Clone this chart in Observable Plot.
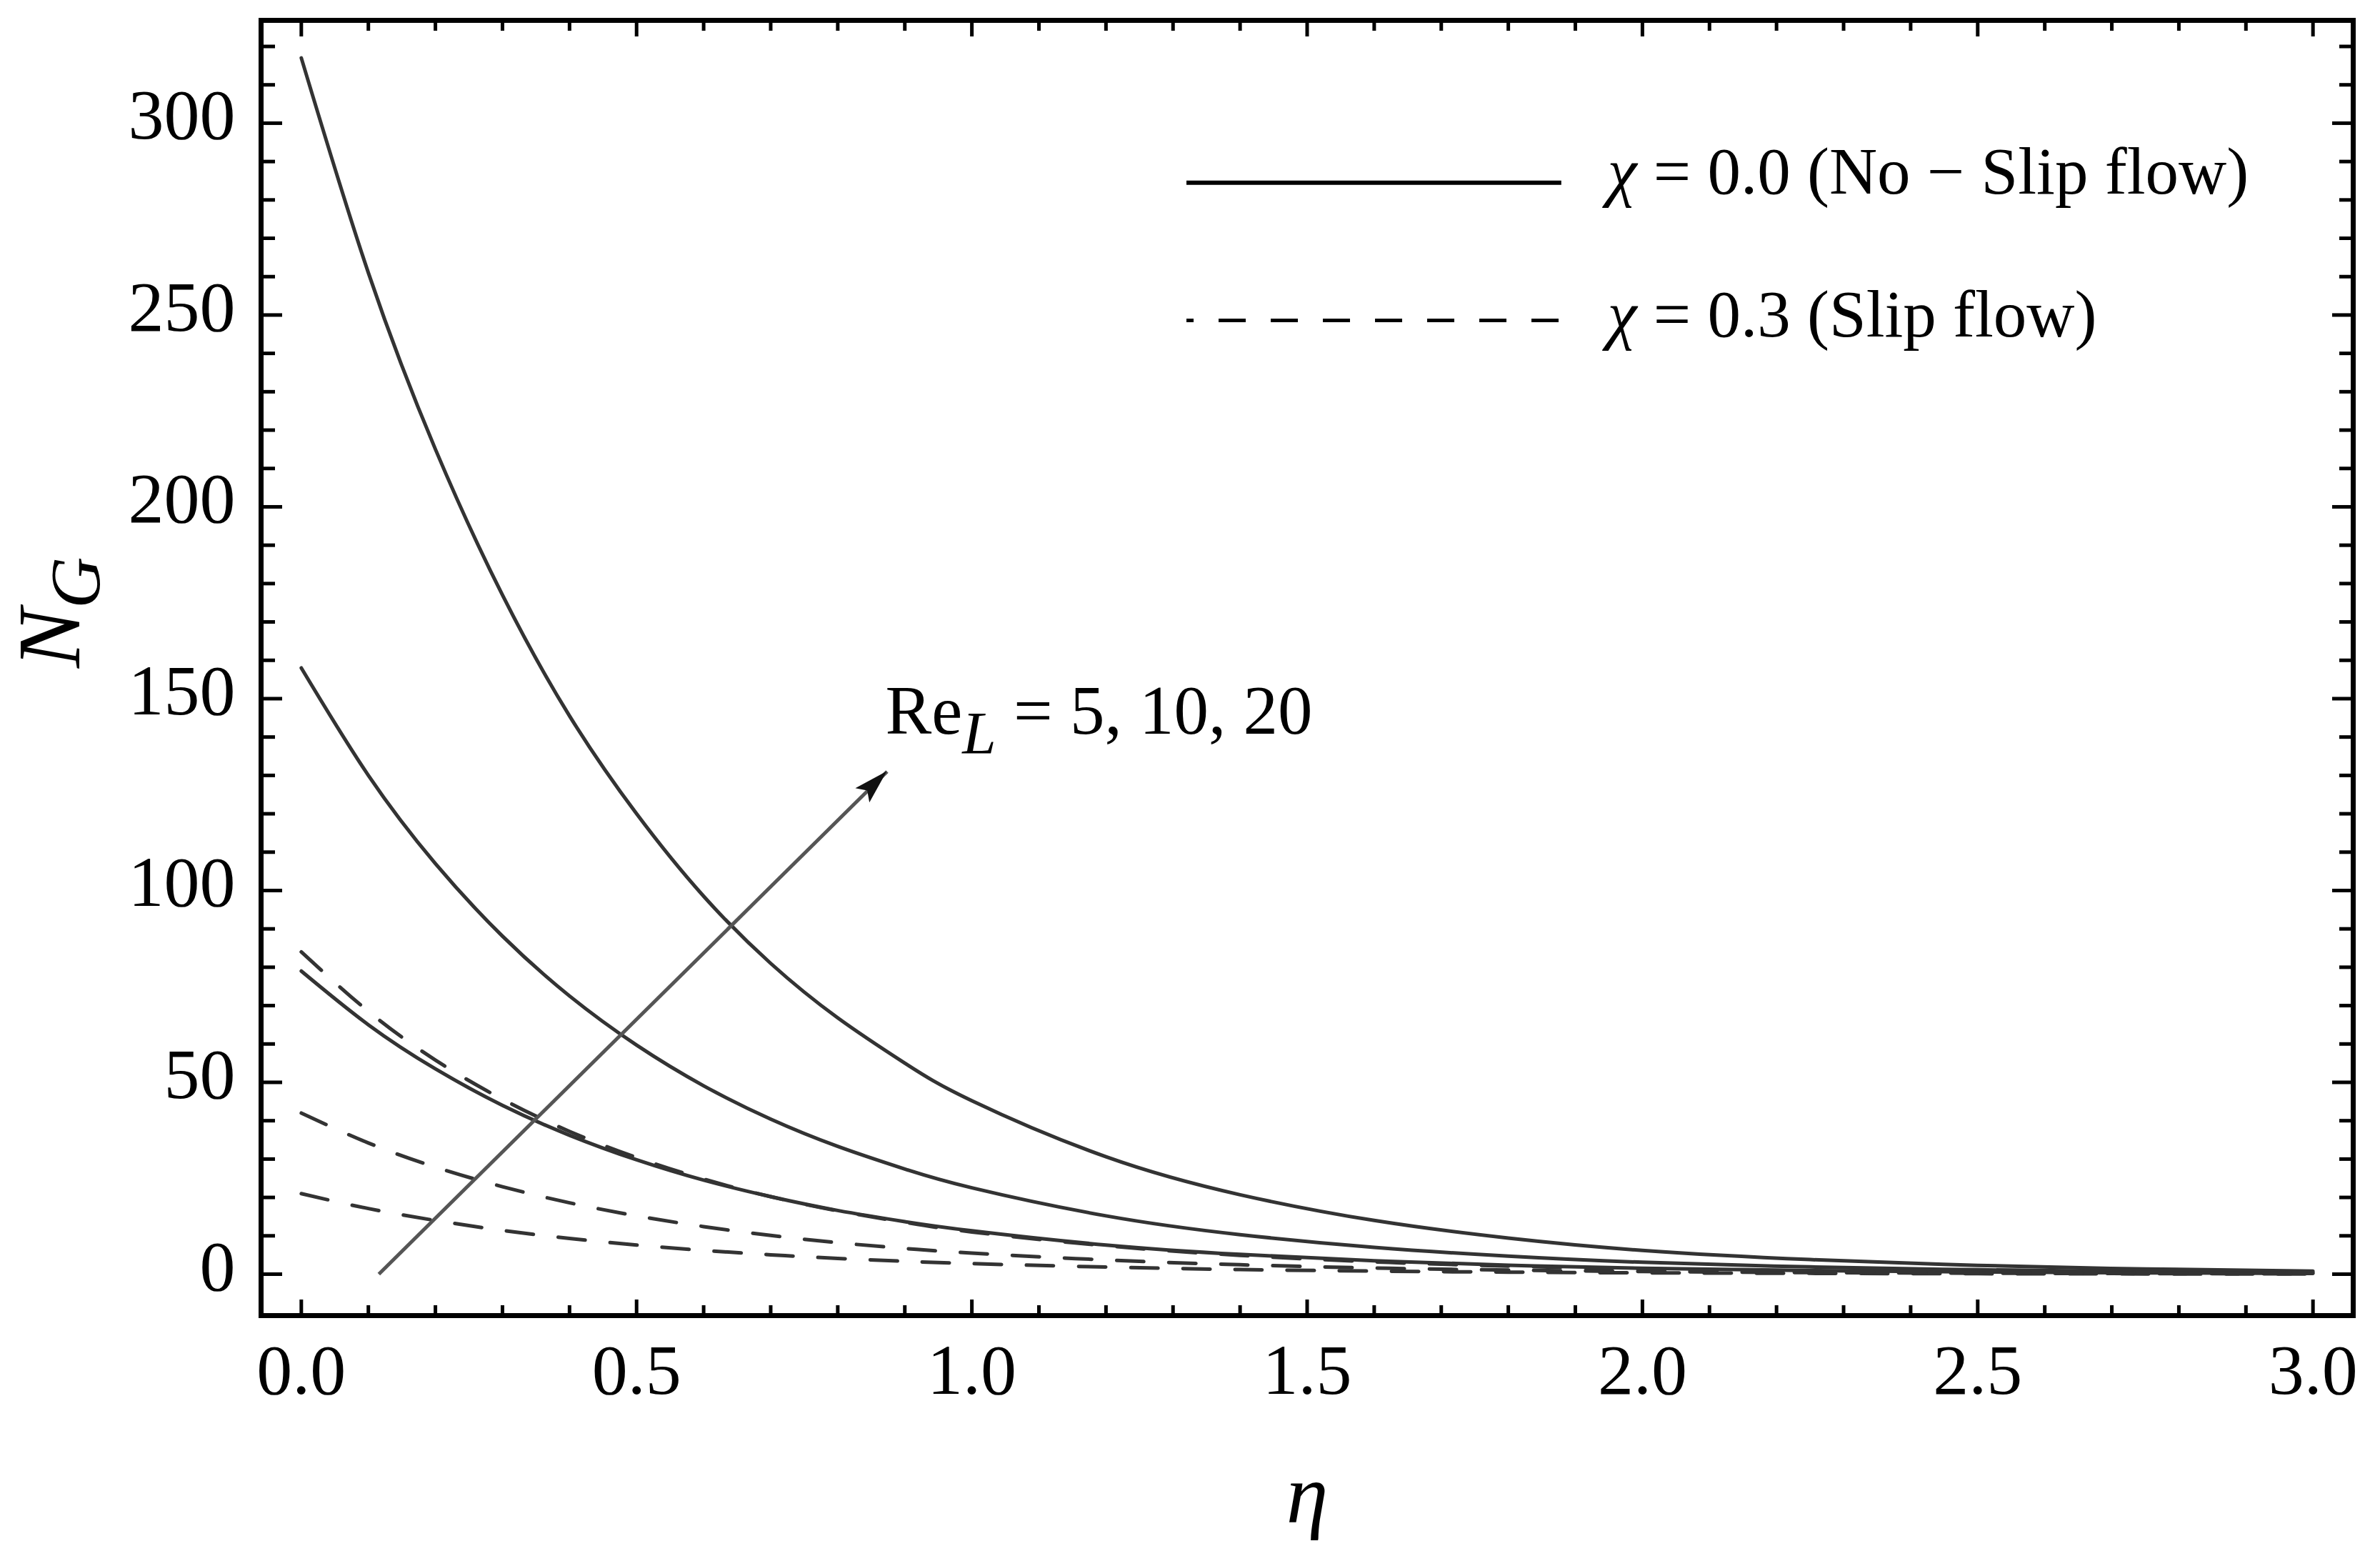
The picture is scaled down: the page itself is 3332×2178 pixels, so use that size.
<!DOCTYPE html>
<html>
<head>
<meta charset="utf-8">
<script src="https://cdn.jsdelivr.net/npm/d3@7"></script>
<script src="https://cdn.jsdelivr.net/npm/@observablehq/plot@0.6"></script>
<style>
  html, body { margin: 0; padding: 0; background: #fff; overflow: hidden; }
  #chart svg { display: block; }
</style>
</head>
<body>
<div id="chart"></div>
<script>
// ---------- data ----------
const eta = [0, 0.1, 0.2, 0.3, 0.4, 0.5, 0.6, 0.7, 0.8, 0.9, 1.0, 1.2, 1.4, 1.6, 1.8, 2.0, 2.25, 2.5, 2.75, 3.0];

// chi = 0.0 (no-slip flow), solid lines
const ngNoSlipRe5  = [79, 65.0, 53.5, 44.0, 36.2, 29.8, 24.5, 20.2, 16.6, 13.7, 11.3, 7.6, 5.15, 3.5, 2.35, 1.55, 0.95, 0.58, 0.34, 0.2];
const ngNoSlipRe10 = [158, 130.0, 107.0, 88.1, 72.5, 59.7, 49.1, 40.4, 33.3, 27.4, 22.5, 15.2, 10.3, 7.0, 4.7, 3.1, 1.9, 1.15, 0.68, 0.4];
const ngNoSlipRe20 = [317, 261, 215, 177, 145.5, 120, 98.5, 81, 66.8, 55, 45.2, 30.6, 20.7, 14, 9.4, 6.2, 3.8, 2.3, 1.35, 0.8];

// chi = 0.3 (slip flow), dashed lines
const ngSlipRe5  = [21, 17.1, 14, 11.4, 9.3, 7.6, 6.2, 5.05, 4.1, 3.35, 2.75, 1.85, 1.2, 0.8, 0.52, 0.35, 0.21, 0.12, 0.07, 0.04];
const ngSlipRe10 = [42, 34.2, 27.9, 22.8, 18.6, 15.2, 12.4, 10.1, 8.2, 6.7, 5.5, 3.7, 2.45, 1.6, 1.05, 0.7, 0.42, 0.25, 0.15, 0.09];
const ngSlipRe20 = [84, 68.5, 55.8, 45.6, 37.2, 30.4, 24.8, 20.2, 16.5, 13.5, 11.0, 7.4, 4.9, 3.2, 2.1, 1.4, 0.85, 0.5, 0.3, 0.18];

// ticks
const xMajorTicks = [0, 0.5, 1.0, 1.5, 2.0, 2.5, 3.0];
const xTickLabels = ["0.0", "0.5", "1.0", "1.5", "2.0", "2.5", "3.0"];
const xMinorTicks = [0.1, 0.2, 0.3, 0.4, 0.6, 0.7, 0.8, 0.9, 1.1, 1.2, 1.3, 1.4, 1.6, 1.7, 1.8, 1.9, 2.1, 2.2, 2.3, 2.4, 2.6, 2.7, 2.8, 2.9];
const yMajorTicks = [0, 50, 100, 150, 200, 250, 300];
const yTickLabels = ["0", "50", "100", "150", "200", "250", "300"];
const yMinorTicks = [10, 20, 30, 40, 60, 70, 80, 90, 110, 120, 130, 140, 160, 170, 180, 190, 210, 220, 230, 240, 260, 270, 280, 290, 310, 320];

// annotation / legend content (data coordinates)
const arrowX1 = [0.1156], arrowY1 = [0], arrowX2 = [0.8736], arrowY2 = [131];
const reLabelText = ["Re_L = 5, 10, 20"];
const reLabelX = [0.871], reLabelY = [146.7];
const legendTexts = ["χ = 0.0 (No − Slip flow)", "χ = 0.3 (Slip flow)"];
const legendLineX1 = [1.32, 1.32], legendLineX2 = [1.879, 1.879];
const legendLineY = [284.5, 248.6];
const legendTextX = [1.948, 1.948];
const legendTextY = [287.2, 249.9];
const xLabel = ["η"], yLabel = ["N_G"];

// ---------- tables ----------
const series = [
  {chi: 0, re: 5, values: ngNoSlipRe5},
  {chi: 0, re: 10, values: ngNoSlipRe10},
  {chi: 0, re: 20, values: ngNoSlipRe20},
  {chi: 0.3, re: 5, values: ngSlipRe5},
  {chi: 0.3, re: 10, values: ngSlipRe10},
  {chi: 0.3, re: 20, values: ngSlipRe20}
];
const rows = series.flatMap(s => eta.map((e, i) => ({eta: e, ng: s.values[i], chi: s.chi, re: s.re})));
const solidRows = rows.filter(d => d.chi === 0);
const dashedRows = rows.filter(d => d.chi === 0.3);
const arrowRows = arrowX1.map((v, i) => ({x1: v, y1: arrowY1[i], x2: arrowX2[i], y2: arrowY2[i]}));
const legendRows = legendTexts.map((t, i) => ({text: t, x1: legendLineX1[i], x2: legendLineX2[i], y: legendLineY[i], tx: legendTextX[i], ty: legendTextY[i]}));
const reRows = reLabelText.map((t, i) => ({text: t, x: reLabelX[i], y: reLabelY[i]}));

const fontFamily = "'Liberation Serif', 'Times New Roman', Times, serif";
const curveColor = "#333";
const dash = "38,35";

const tickOnly = {stroke: "black", strokeWidth: 5, fill: "none", label: null};
const xFmt = d => xTickLabels[xMajorTicks.indexOf(d)];
const yFmt = d => yTickLabels[yMajorTicks.indexOf(d)];

const chart = Plot.plot({
  width: 3332,
  height: 2178,
  marginLeft: 365,
  marginRight: 38,
  marginTop: 28,
  marginBottom: 337,
  x: {domain: [-0.06, 3.06], label: null},
  y: {domain: [-10.8, 326.8], label: null},
  style: {fontFamily, color: "black", background: "white"},
  marks: [
    // curves
    Plot.line(solidRows, {x: "eta", y: "ng", z: "re", stroke: curveColor, strokeWidth: 5, curve: "natural"}),
    Plot.line(dashedRows, {x: "eta", y: "ng", z: "re", stroke: curveColor, strokeWidth: 5, curve: "natural", strokeDasharray: dash}),

    // arrow shaft
    Plot.link(arrowRows, {x1: "x1", y1: "y1", x2: "x2", y2: "y2", stroke: "#555", strokeWidth: 5}),

    // Re label
    Plot.text(reRows, {x: "x", y: "y", text: "text", textAnchor: "start", lineAnchor: "middle", fontSize: 97, fill: "black", ariaDescription: "re-label"}),

    // legend
    Plot.link(legendRows.slice(0, 1), {x1: "x1", x2: "x2", y1: "y", y2: "y", stroke: "black", strokeWidth: 6}),
    Plot.link(legendRows.slice(1, 2), {x1: "x1", x2: "x2", y1: "y", y2: "y", stroke: "black", strokeWidth: 5, strokeDasharray: dash, strokeDashoffset: 28}),
    Plot.text(legendRows, {x: "tx", y: "ty", text: "text", textAnchor: "start", lineAnchor: "middle", fontSize: 93, fill: "black", ariaDescription: "legend-text"}),

    // ticks (inward) on all four sides
    Plot.axisX(xMajorTicks, {anchor: "bottom", tickSize: -22, ...tickOnly}),
    Plot.axisX(xMinorTicks, {anchor: "bottom", tickSize: -14, ...tickOnly}),
    Plot.axisX(xMajorTicks, {anchor: "top", tickSize: -22, ...tickOnly}),
    Plot.axisX(xMinorTicks, {anchor: "top", tickSize: -14, ...tickOnly}),
    Plot.axisY(yMajorTicks, {anchor: "left", tickSize: -30, ...tickOnly}),
    Plot.axisY(yMinorTicks, {anchor: "left", tickSize: -20, ...tickOnly}),
    Plot.axisY(yMajorTicks, {anchor: "right", tickSize: -30, ...tickOnly}),
    Plot.axisY(yMinorTicks, {anchor: "right", tickSize: -20, ...tickOnly}),

    // tick labels
    Plot.axisX(xMajorTicks, {anchor: "bottom", tickSize: 0, stroke: "none", fill: "black", tickPadding: 38, fontSize: 100, tickFormat: xFmt, label: null}),
    Plot.axisY(yMajorTicks, {anchor: "left", tickSize: 0, stroke: "none", fill: "black", tickPadding: 36, fontSize: 100, dy: -10, tickFormat: yFmt, label: null}),

    // axis titles
    Plot.text(xLabel, {frameAnchor: "bottom", text: d => d, dy: 289, lineAnchor: "bottom", fontSize: 118, fontStyle: "italic", fill: "black"}),
    Plot.text(yLabel, {frameAnchor: "left", text: d => d, rotate: -90, dx: -255, lineAnchor: "bottom", fontSize: 125, fontStyle: "italic", fill: "black", ariaDescription: "ylabel"}),

    Plot.frame({stroke: "black", strokeWidth: 7})
  ]
});

document.getElementById("chart").appendChild(chart);

// ---------- rich text (italic / subscripts) ----------
function findTexts(desc, raw) {
  let nodes = Array.from(chart.querySelectorAll('g[aria-description="' + desc + '"] text'));
  if (!nodes.length) nodes = Array.from(chart.querySelectorAll("text")).filter(t => t.textContent === raw);
  return nodes;
}
findTexts("ylabel", yLabel[0]).forEach(t => {
  t.innerHTML = 'N<tspan dy="28" style="font-size:80%">G</tspan>';
});
legendTexts.forEach(raw => {
  findTexts("legend-text", raw).filter(t => t.textContent === raw).forEach(t => {
    t.innerHTML = '<tspan style="font-style:italic">' + raw.slice(0, 1) + '</tspan>' + raw.slice(1);
  });
});
findTexts("re-label", reLabelText[0]).forEach(t => {
  t.innerHTML = 'Re<tspan dy="28" style="font-style:italic;font-size:88%">L</tspan><tspan dy="-28"> = 5, 10, 20</tspan>';
});

// ---------- filled arrow head, placed through the plot's scales ----------
try {
  const sx = chart.scale("x"), sy = chart.scale("y");
  const X1 = sx.apply(arrowX1[0]), Y1 = sy.apply(arrowY1[0]);
  const X2 = sx.apply(arrowX2[0]), Y2 = sy.apply(arrowY2[0]);
  const len = Math.hypot(X2 - X1, Y2 - Y1);
  const ux = (X2 - X1) / len, uy = (Y2 - Y1) / len;
  const L = 48, Wd = 14;
  const bx = X2 - ux * L, by = Y2 - uy * L;
  const pts = [[X2, Y2], [bx - uy * Wd, by + ux * Wd], [X2 - ux * L * 0.8, Y2 - uy * L * 0.8], [bx + uy * Wd, by - ux * Wd]];
  d3.select(chart).append("polygon")
    .attr("points", pts.map(p => p.join(",")).join(" "))
    .attr("fill", "#111");
} catch (e) {
  console.error(e);
}
</script>
</body>
</html>
